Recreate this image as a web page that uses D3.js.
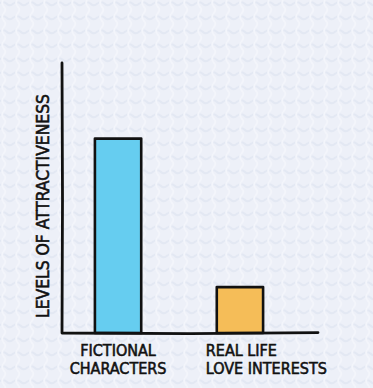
<!DOCTYPE html>
<html>
<head>
<meta charset="utf-8">
<script src="https://cdn.jsdelivr.net/npm/d3@7"></script>
<style>
  html, body { margin: 0; padding: 0; background: #edf0f8; }
  svg { display: block; }
  .lbl { font-family: "DejaVu Sans Condensed", "DejaVu Sans", sans-serif; fill: #111; stroke: #111; stroke-width: 0.55; }
</style>
</head>
<body>
<svg id="chart"></svg>
<script>
var categories = ["FICTIONAL CHARACTERS", "REAL LIFE LOVE INTERESTS"];
var labelLines = [["FICTIONAL", "CHARACTERS"], ["REAL LIFE", "LOVE INTERESTS"]];
var attractiveness = [72, 17];
var barColors = ["#66cdf0", "#f5bd58"];
var yTitle = "LEVELS OF ATTRACTIVENESS";

var width = 373, height = 388;
var axisX = 62, axisTop = 63, baseY = 333, axisRight = 318;

var svg = d3.select("#chart")
    .attr("width", width)
    .attr("height", height);

// faint paper texture
var defs = svg.append("defs");
var pat = defs.append("pattern")
    .attr("id", "paper")
    .attr("width", 14).attr("height", 14)
    .attr("patternUnits", "userSpaceOnUse");
pat.append("rect").attr("width", 14).attr("height", 14).attr("fill", "#edf0f8");
pat.append("path").attr("d", "M0 3 Q4 1 7 4 T14 3").attr("stroke", "#e3e8f3").attr("stroke-width", 2).attr("fill", "none");
pat.append("path").attr("d", "M3 0 Q1 4 4 7 T3 14").attr("stroke", "#f3f5fb").attr("stroke-width", 2).attr("fill", "none");
svg.append("rect").attr("width", width).attr("height", height).attr("fill", "url(#paper)");

var x = d3.scaleBand()
    .domain(categories)
    .range([axisX, 296])
    .paddingInner(0.62)
    .paddingOuter(0.27);

var y = d3.scaleLinear()
    .domain([0, 100])
    .range([baseY, axisTop]);

// bars
svg.selectAll(".bar")
    .data(categories)
  .enter().append("rect")
    .attr("class", "bar")
    .attr("x", function(d) { return x(d); })
    .attr("y", function(d, i) { return y(attractiveness[i]); })
    .attr("width", x.bandwidth())
    .attr("height", function(d, i) { return y(0) - y(attractiveness[i]); })
    .attr("fill", function(d, i) { return barColors[i]; })
    .attr("stroke", "#111")
    .attr("stroke-width", 2.6)
    .attr("stroke-linejoin", "round");

// hand drawn axes
svg.append("path")
    .attr("d", d3.line()([[axisX, axisTop], [axisX + 0.5, 200], [axisX, baseY], [190, baseY + 0.6], [axisRight, baseY - 0.4]]))
    .attr("fill", "none")
    .attr("stroke", "#111")
    .attr("stroke-width", 2.8)
    .attr("stroke-linecap", "round")
    .attr("stroke-linejoin", "round");

// y title
svg.append("text")
    .attr("class", "lbl")
    .attr("transform", "translate(49," + 206 + ") rotate(-90)")
    .attr("text-anchor", "middle")
    .attr("font-size", 17)
    .attr("textLength", 224)
    .attr("lengthAdjust", "spacingAndGlyphs")
    .text(yTitle);

// category labels: first centred under its bar, second starts just left of its bar
var lbl = svg.selectAll(".cat")
    .data(categories)
  .enter().append("text")
    .attr("class", "lbl cat")
    .attr("text-anchor", function(d, i) { return i === 0 ? "middle" : "start"; })
    .attr("font-size", 16)
    .attr("transform", function(d, i) {
      var tx = i === 0 ? x(d) + x.bandwidth() / 2 : x(d) - 11;
      return "translate(" + tx + ",356)";
    });

lbl.selectAll("tspan")
    .data(function(d, i) { return labelLines[i]; })
  .enter().append("tspan")
    .attr("x", 0)
    .attr("dy", function(d, j) { return j === 0 ? 0 : 18; })
    .text(function(d) { return d; });
</script>
</body>
</html>
